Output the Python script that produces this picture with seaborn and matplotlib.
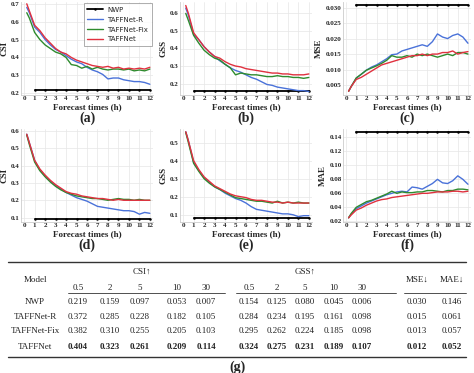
import numpy as np
import pandas as pd
import matplotlib
matplotlib.use("Agg")
import matplotlib.pyplot as plt
from matplotlib.lines import Line2D
import seaborn as sns

# forecast lead times (h), half-hour steps
hours = [0.25] + [0.5 * i for i in range(1, 25)]
nwp_hours = list(range(1, 13))

models = ["NWP", "TAFFNet-R", "TAFFNet-Fix", "TAFFNet"]
colors = {"NWP": "black", "TAFFNet-R": "#4a72d9", "TAFFNet-Fix": "#2e8b2e", "TAFFNet": "#e0313f"}

# (a) CSI, threshold 0.5
csi_a_nwp = 0.22
csi_a_r = [0.68, 0.65, 0.57, 0.54, 0.50, 0.47, 0.445, 0.43, 0.41, 0.39, 0.375, 0.365, 0.345, 0.33, 0.32,
           0.305, 0.28, 0.285, 0.285, 0.275, 0.27, 0.265, 0.265, 0.26, 0.25]
csi_a_fix = [0.65, 0.62, 0.54, 0.50, 0.47, 0.45, 0.43, 0.42, 0.40, 0.36, 0.355, 0.34, 0.35, 0.335, 0.345,
             0.335, 0.33, 0.335, 0.335, 0.33, 0.335, 0.325, 0.33, 0.325, 0.335]
csi_a_full = [0.70, 0.66, 0.58, 0.55, 0.51, 0.48, 0.45, 0.43, 0.42, 0.40, 0.385, 0.375, 0.365, 0.355, 0.35,
              0.345, 0.35, 0.34, 0.345, 0.335, 0.34, 0.335, 0.34, 0.335, 0.345]

# (b) GSS, threshold 0.5
gss_b_nwp = 0.155
gss_b_r = [0.63, 0.59, 0.48, 0.45, 0.41, 0.38, 0.355, 0.33, 0.31, 0.29, 0.275, 0.265, 0.25, 0.235, 0.225,
           0.21, 0.195, 0.19, 0.18, 0.175, 0.17, 0.165, 0.16, 0.16, 0.155]
gss_b_fix = [0.60, 0.56, 0.475, 0.43, 0.39, 0.365, 0.345, 0.335, 0.31, 0.29, 0.25, 0.26, 0.255, 0.25, 0.25,
             0.245, 0.24, 0.24, 0.245, 0.24, 0.24, 0.235, 0.235, 0.23, 0.235]
gss_b_full = [0.645, 0.60, 0.49, 0.45, 0.41, 0.38, 0.355, 0.345, 0.325, 0.31, 0.30, 0.295, 0.285, 0.28, 0.275,
              0.27, 0.265, 0.26, 0.26, 0.255, 0.255, 0.25, 0.25, 0.25, 0.255]

# (c) MSE
mse_nwp = 0.0308
mse_r = [0.003, 0.0045, 0.0072, 0.0085, 0.0098, 0.0108, 0.0115, 0.0125, 0.0135, 0.0148, 0.015, 0.016, 0.0165,
         0.017, 0.0175, 0.018, 0.0175, 0.019, 0.0215, 0.0205, 0.020, 0.021, 0.0215, 0.0205, 0.0185]
mse_fix = [0.003, 0.0045, 0.0073, 0.0085, 0.0098, 0.0105, 0.0112, 0.012, 0.013, 0.0145, 0.014, 0.014, 0.0145,
           0.014, 0.015, 0.0145, 0.015, 0.0145, 0.014, 0.0145, 0.015, 0.0145, 0.0155, 0.0155, 0.015]
mse_full = [0.003, 0.0045, 0.0068, 0.0075, 0.0085, 0.0095, 0.0105, 0.0115, 0.012, 0.0125, 0.013, 0.0135, 0.014,
            0.0145, 0.0145, 0.015, 0.0145, 0.015, 0.015, 0.0155, 0.0155, 0.016, 0.015, 0.0155, 0.0158]

# (d) CSI, threshold 2
csi_d_nwp = 0.095
csi_d_r = [0.58, 0.53, 0.43, 0.375, 0.34, 0.31, 0.285, 0.265, 0.245, 0.23, 0.215, 0.205, 0.195, 0.18, 0.165,
           0.16, 0.155, 0.15, 0.145, 0.14, 0.14, 0.135, 0.12, 0.13, 0.125]
csi_d_fix = [0.575, 0.52, 0.42, 0.37, 0.335, 0.305, 0.28, 0.26, 0.245, 0.235, 0.225, 0.22, 0.215, 0.21, 0.21,
             0.205, 0.2, 0.205, 0.21, 0.205, 0.205, 0.2, 0.205, 0.2, 0.2]
csi_d_full = [0.58, 0.53, 0.43, 0.38, 0.345, 0.315, 0.29, 0.27, 0.25, 0.24, 0.235, 0.225, 0.22, 0.215, 0.21,
              0.21, 0.205, 0.2, 0.205, 0.2, 0.2, 0.2, 0.2, 0.2, 0.2]

# (e) GSS, threshold 2
gss_e_nwp = 0.08
gss_e_r = [0.56, 0.51, 0.39, 0.345, 0.305, 0.28, 0.255, 0.24, 0.22, 0.205, 0.19, 0.18, 0.165, 0.145, 0.13,
           0.125, 0.12, 0.115, 0.11, 0.105, 0.105, 0.1, 0.09, 0.095, 0.095]
gss_e_fix = [0.555, 0.50, 0.385, 0.34, 0.30, 0.275, 0.255, 0.24, 0.225, 0.21, 0.195, 0.19, 0.185, 0.18, 0.175,
             0.175, 0.17, 0.165, 0.175, 0.165, 0.17, 0.165, 0.17, 0.165, 0.165]
gss_e_full = [0.56, 0.51, 0.40, 0.35, 0.31, 0.285, 0.26, 0.245, 0.23, 0.215, 0.205, 0.2, 0.195, 0.185, 0.18,
              0.18, 0.175, 0.17, 0.17, 0.165, 0.17, 0.165, 0.165, 0.165, 0.165]

# (f) MAE
mae_nwp = 0.147
mae_r = [0.025, 0.03, 0.038, 0.042, 0.046, 0.049, 0.052, 0.055, 0.058, 0.06, 0.062, 0.063, 0.062, 0.069, 0.068,
         0.066, 0.07, 0.074, 0.08, 0.075, 0.074, 0.078, 0.085, 0.08, 0.073]
mae_fix = [0.025, 0.031, 0.04, 0.044, 0.048, 0.05, 0.053, 0.056, 0.059, 0.063, 0.06, 0.062, 0.061, 0.061, 0.062,
           0.062, 0.064, 0.064, 0.063, 0.062, 0.064, 0.064, 0.066, 0.066, 0.065]
mae_full = [0.025, 0.029, 0.036, 0.039, 0.043, 0.046, 0.049, 0.051, 0.052, 0.054, 0.055, 0.056, 0.057, 0.058,
            0.059, 0.06, 0.06, 0.061, 0.062, 0.062, 0.062, 0.063, 0.063, 0.062, 0.063]

# table (g)
thresholds = ["0.5", "2", "5", "10", "30"]
csi_table = [[0.219, 0.159, 0.097, 0.053, 0.007],
             [0.372, 0.285, 0.228, 0.182, 0.105],
             [0.382, 0.310, 0.255, 0.205, 0.103],
             [0.404, 0.323, 0.261, 0.209, 0.114]]
gss_table = [[0.154, 0.125, 0.080, 0.045, 0.006],
             [0.284, 0.234, 0.195, 0.161, 0.098],
             [0.295, 0.262, 0.224, 0.185, 0.098],
             [0.324, 0.275, 0.231, 0.189, 0.107]]
mse_table = [0.030, 0.015, 0.013, 0.012]
mae_table = [0.146, 0.061, 0.057, 0.052]

panels = [
    ("(a)", "CSI", csi_a_nwp, csi_a_r, csi_a_fix, csi_a_full, (0.19, 0.71), [0.2, 0.3, 0.4, 0.5, 0.6, 0.7], "%.1f"),
    ("(b)", "GSS", gss_b_nwp, gss_b_r, gss_b_fix, gss_b_full, (0.135, 0.665), [0.2, 0.3, 0.4, 0.5, 0.6], "%.1f"),
    ("(c)", "MSE", mse_nwp, mse_r, mse_fix, mse_full, (0.0018, 0.0318), [0.005, 0.01, 0.015, 0.02, 0.025, 0.03], "%.3f"),
    ("(d)", "CSI", csi_d_nwp, csi_d_r, csi_d_fix, csi_d_full, (0.075, 0.61), [0.1, 0.2, 0.3, 0.4, 0.5, 0.6], "%.1f"),
    ("(e)", "GSS", gss_e_nwp, gss_e_r, gss_e_fix, gss_e_full, (0.06, 0.575), [0.1, 0.2, 0.3, 0.4, 0.5], "%.1f"),
    ("(f)", "MAE", mae_nwp, mae_r, mae_fix, mae_full, (0.019, 0.152), [0.02, 0.04, 0.06, 0.08, 0.1, 0.12, 0.14], "%.2f"),
]

sns.set_theme(style="whitegrid")
plt.rcParams["font.family"] = ["Liberation Serif", "DejaVu Serif"]
plt.rcParams["grid.color"] = "#e6e6e6"
plt.rcParams["grid.linewidth"] = 0.5

fig = plt.figure(figsize=(4.74, 3.73), dpi=100)

W, H = 474.0, 373.0
col_x = [(21, 153), (180, 312), (343, 471)]
row_y = [(2, 95), (129, 222)]

for idx, (tag, ylab, nwp, r, fix, full, ylim, yticks, fmt) in enumerate(panels):
    rr, cc = divmod(idx, 3)
    x0, x1 = col_x[cc]
    y0, y1 = row_y[rr]
    ax = fig.add_axes([x0 / W, 1 - y1 / H, (x1 - x0) / W, (y1 - y0) / H])

    sns.lineplot(x=nwp_hours, y=[nwp] * len(nwp_hours), color=colors["NWP"], lw=1.3,
                 marker="o", markersize=1.8, markeredgewidth=0, label="NWP", ax=ax)
    sns.lineplot(x=hours, y=r, color=colors["TAFFNet-R"], lw=1.0, label="TAFFNet-R", ax=ax)
    sns.lineplot(x=hours, y=fix, color=colors["TAFFNet-Fix"], lw=1.0, label="TAFFNet-Fix", ax=ax)
    sns.lineplot(x=hours, y=full, color=colors["TAFFNet"], lw=1.0, label="TAFFNet", ax=ax)

    ax.set_xlim(-0.3, 12.3)
    ax.set_ylim(*ylim)
    ax.set_xticks(range(13))
    ax.set_yticks(yticks)
    ax.set_yticklabels([fmt % v for v in yticks])
    ax.tick_params(axis="both", labelsize=5, pad=1, length=0)
    for lab in ax.get_xticklabels() + ax.get_yticklabels():
        lab.set_fontweight("bold")
    ax.set_xlabel("Forecast times (h)", fontsize=6.5, fontweight="bold", labelpad=1)
    ax.set_ylabel(ylab, fontsize=6.5, fontweight="bold", labelpad=2)
    for s in ["top", "right"]:
        ax.spines[s].set_visible(False)
    for s in ["left", "bottom"]:
        ax.spines[s].set_color("#cccccc")
        ax.spines[s].set_linewidth(0.6)

    if idx == 0:
        leg = ax.legend(loc="upper right", frameon=True, fancybox=False,
                        borderpad=0.5, labelspacing=0.55, handlelength=2.3,
                        handletextpad=0.6, borderaxespad=0.2,
                        prop={"family": "DejaVu Sans", "size": 5})
        leg.get_frame().set_edgecolor("#888888")
        leg.get_frame().set_linewidth(0.6)
    else:
        ax.get_legend().remove()

    fig.text((x0 + x1) / 2 / W, 1 - (y1 + 23) / H, tag, ha="center", va="center",
             fontsize=10, fontweight="bold")

# table (g)
def hline(xa, xb, y, lw=0.8):
    fig.add_artist(Line2D([xa / W, xb / W], [1 - y / H, 1 - y / H], color="#333333", lw=lw))

def cell(x, y, s, bold=False):
    fig.text(x / W, 1 - y / H, s, ha="center", va="center", fontsize=6.5,
             fontweight="bold" if bold else "normal", color="#222222")

csi_x = [78, 110, 140, 177, 206]
gss_x = [249, 277, 305, 334, 362]
row_pos = [302, 317, 331, 347]

hline(8, 466, 262, 1.0)
hline(68, 225, 293, 0.6)
hline(236, 396, 293, 0.6)
hline(404, 466, 293, 0.6)
hline(8, 466, 357, 1.0)

cell(35, 280, "Model")
cell(142, 272, "CSI\u2191")
cell(305, 272, "GSS\u2191")
cell(417, 280, "MSE\u2193")
cell(452, 280, "MAE\u2193")
for j, t in enumerate(thresholds):
    cell(csi_x[j], 288, t)
    cell(gss_x[j], 288, t)

for i, m in enumerate(models):
    bold = (i == len(models) - 1)
    cell(35, row_pos[i], m)
    for j in range(5):
        cell(csi_x[j], row_pos[i], "%.3f" % csi_table[i][j], bold)
        cell(gss_x[j], row_pos[i], "%.3f" % gss_table[i][j], bold)
    cell(417, row_pos[i], "%.3f" % mse_table[i], bold)
    cell(452, row_pos[i], "%.3f" % mae_table[i], bold)

fig.text(237 / W, 1 - 367 / H, "(g)", ha="center", va="center", fontsize=10, fontweight="bold")

fig.savefig("out.png", dpi=100)
